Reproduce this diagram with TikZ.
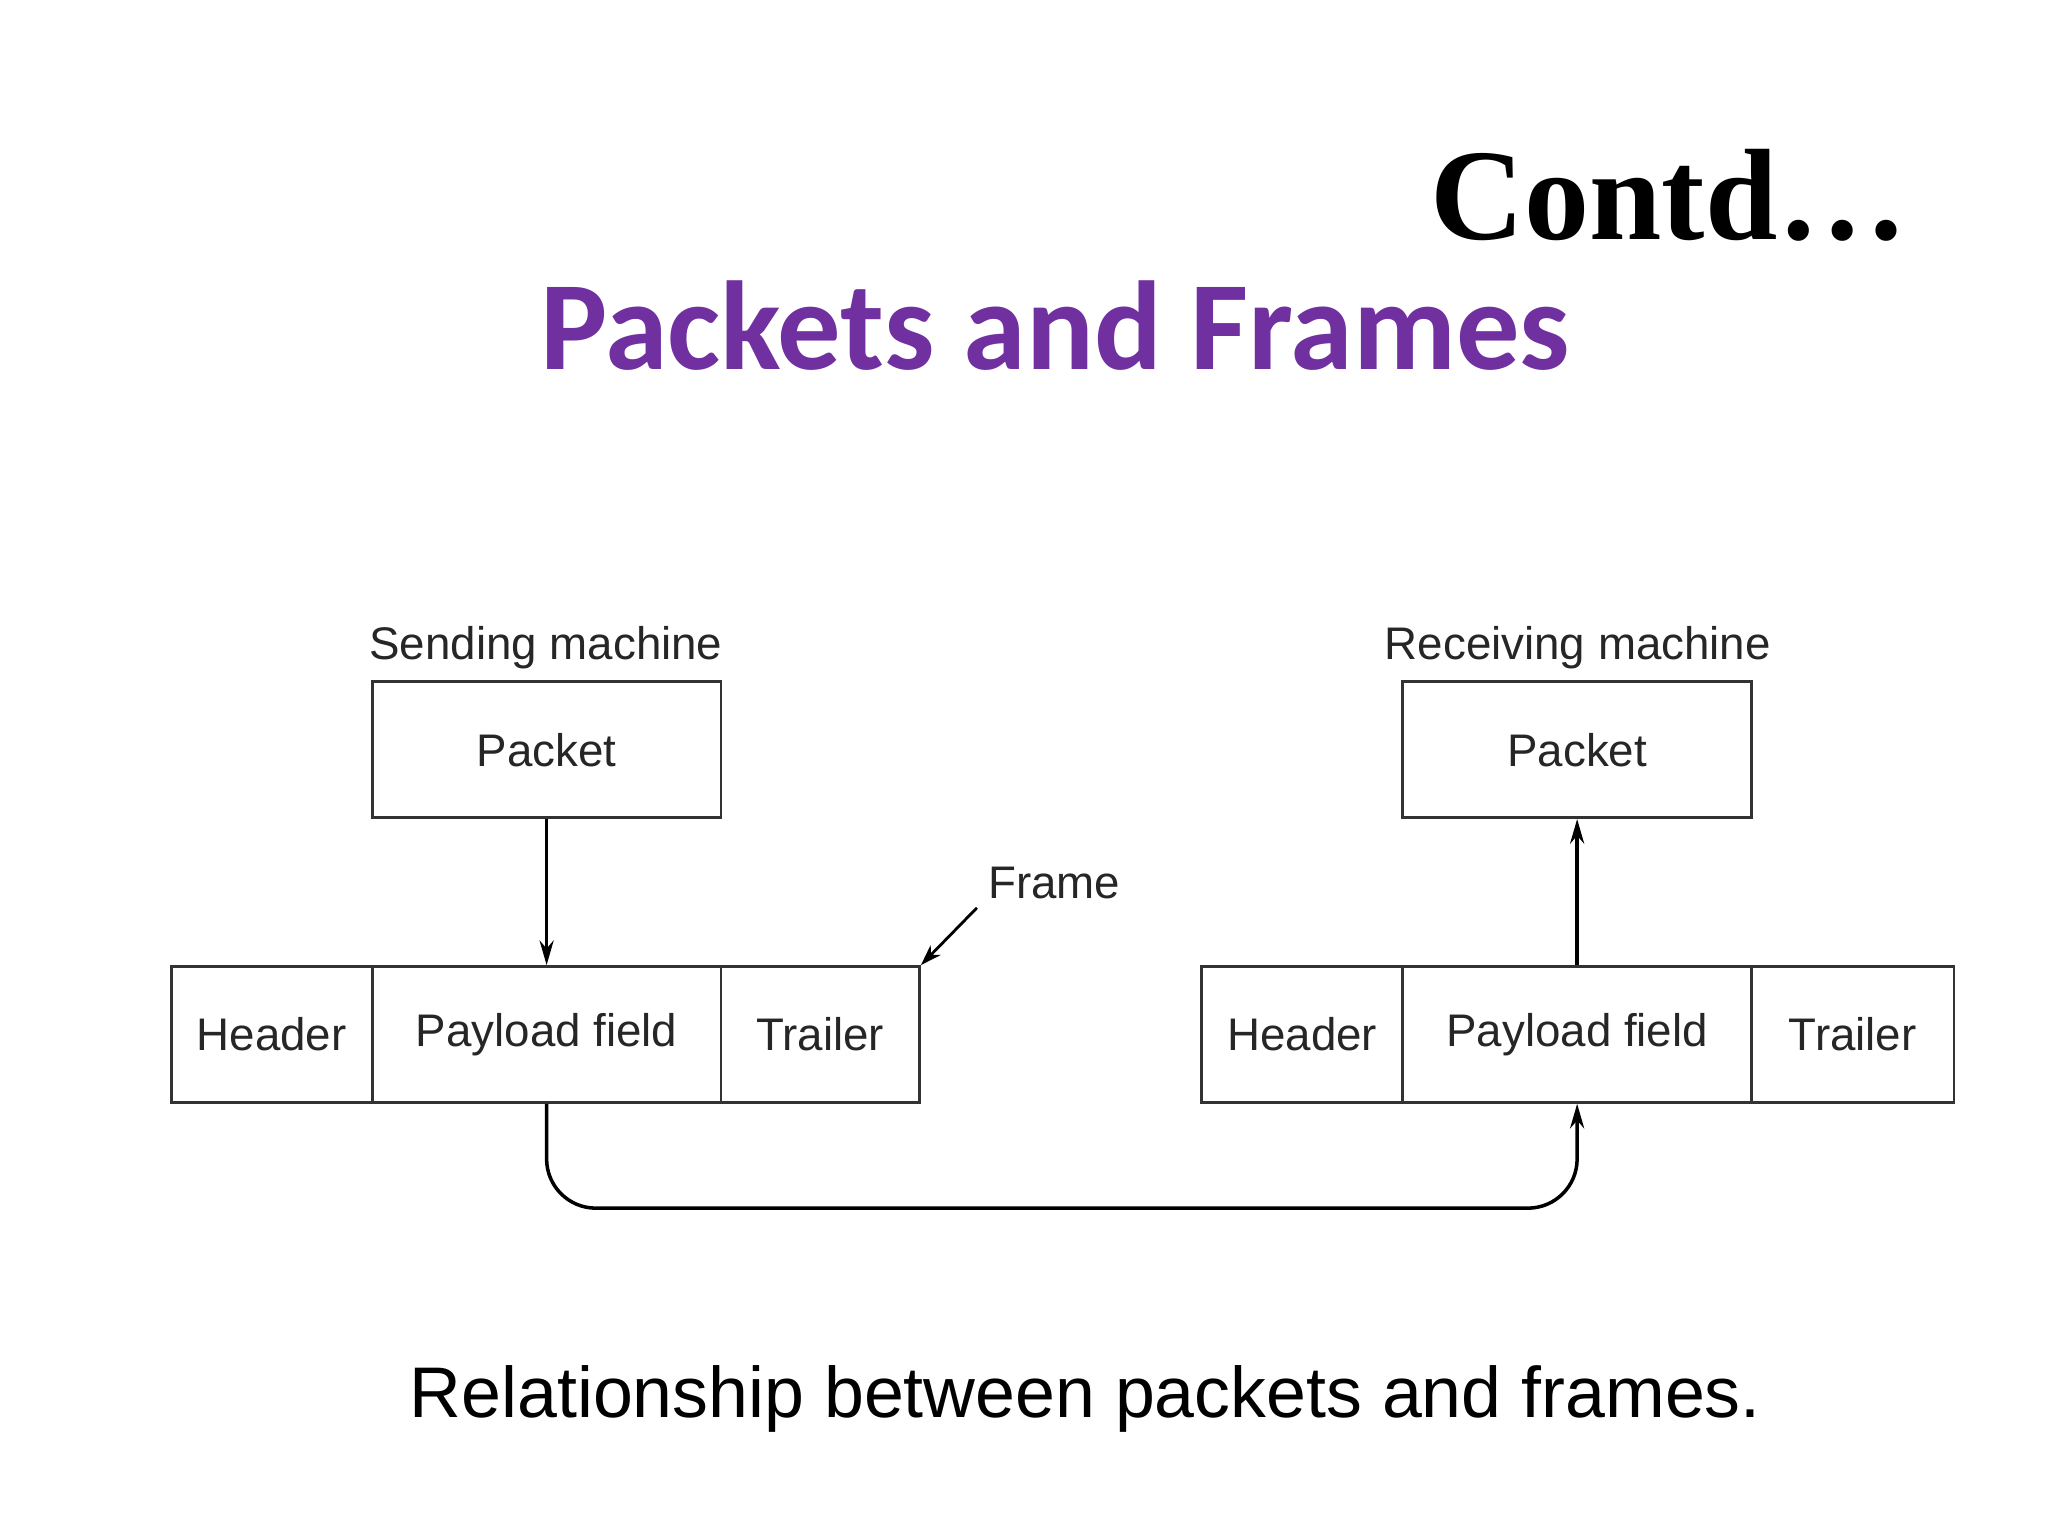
\documentclass[tikz,border=0pt]{standalone}
\usepackage{fontspec}
\setmainfont{Liberation Sans}
\newfontfamily\carl{Carlito}
\newfontfamily\tms{Liberation Serif}
\usetikzlibrary{arrows.meta}
\definecolor{titlepurple}{HTML}{7030A0}
\begin{document}
\begin{tikzpicture}[x=0.013061cm,y=-0.013061cm,
  box/.style={draw=black!80,line width=0.8pt,minimum height={104*0.013061cm},inner sep=0pt,font=\fontsize{13}{15}\selectfont,text=black!85},
  lbl/.style={font=\fontsize{13}{15}\selectfont,text=black!85},
  arr/.style={line width=1pt,-{Stealth[length=7pt,width=4pt]}}]
\useasboundingbox (0,0) rectangle (1568,1176);
\node[font=\tms\bfseries\fontsize{37}{42}\selectfont,anchor=base east] (contd) at (1470,183) {Contd…};
\node[font=\carl\bfseries\fontsize{36}{41}\selectfont,text=titlepurple,anchor=base] (title) at (808,283) {Packets and Frames};
% sending
\node[lbl,anchor=base] (sm) at (418,505) {Sending machine};
\node[box,minimum width={267*0.013061cm}] (p1) at (418.5,574) {Packet};
\node[box,minimum width={154*0.013061cm}] (h1) at (208,792) {Header};
\node[box,minimum width={267*0.013061cm}] (pl1) at (418.5,792) {Payload field};
\node[box,minimum width={152*0.013061cm}] (t1) at (628,792) {Trailer};
% receiving
\node[lbl,anchor=base] (rm) at (1208,505) {Receiving machine};
\node[box,minimum width={267*0.013061cm}] (p2) at (1207.5,574) {Packet};
\node[box,minimum width={154*0.013061cm}] (h2) at (997,792) {Header};
\node[box,minimum width={267*0.013061cm}] (pl2) at (1207.5,792) {Payload field};
\node[box,minimum width={155*0.013061cm}] (t2) at (1418.5,792) {Trailer};
% arrows
\draw[arr] (p1.south) -- (pl1.north);
\draw[arr] (pl2.north) -- (p2.south);
\node[lbl,anchor=base west] (fr) at (747,688) {Frame};
\coordinate (fa) at (748,695);
\draw[line width=0.8pt,-{Stealth[length=6pt,width=4pt]}] (fa) -- (t1.north east);
\coordinate (c1) at (418.5,925);
\coordinate (c2) at (1207.5,925);
\draw[arr,rounded corners=14] (pl1.south) -- (c1) -- (c2) -- (pl2.south);
\node[font=\fontsize{20.4}{24}\selectfont,anchor=base] (cap) at (831,1085) {Relationship between packets and frames.};
\end{tikzpicture}
\end{document}
